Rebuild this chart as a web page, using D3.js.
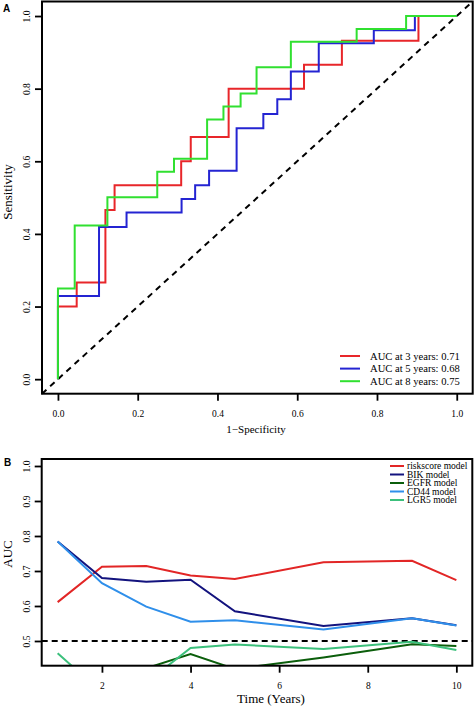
<!DOCTYPE html>
<html>
<head>
<meta charset="utf-8">
<script src="https://cdn.jsdelivr.net/npm/d3@7"></script>
<style>
  body { margin: 0; background: #fff; }
  svg text { font-family: "Liberation Serif", "Times New Roman", serif; fill: #000; }
</style>
</head>
<body>
<div id="chart"></div>
<script>
// panel A: ROC curves (false positive rate / sensitivity at each step)
var fpr3 = [0, 0, 0.047, 0.119, 0.142, 0.309, 0.333, 0.428, 0.617, 0.712, 0.904, 1];
var tpr3 = [0, 0.2, 0.266, 0.466, 0.534, 0.6, 0.667, 0.8, 0.866, 0.932, 1, 1];
var fpr5 = [0, 0, 0.103, 0.172, 0.31, 0.344, 0.379, 0.448, 0.515, 0.55, 0.584, 0.654, 0.792, 0.895, 1];
var tpr5 = [0, 0.229, 0.419, 0.459, 0.496, 0.534, 0.574, 0.691, 0.730, 0.771, 0.847, 0.925, 0.961, 1, 1];
var fpr8 = [0, 0, 0.042, 0.124, 0.249, 0.291, 0.374, 0.415, 0.458, 0.498, 0.584, 0.749, 0.873, 1];
var tpr8 = [0, 0.25, 0.423, 0.501, 0.571, 0.607, 0.715, 0.751, 0.787, 0.859, 0.929, 0.964, 1, 1];
var rocLabels = ["AUC at 3 years: 0.71", "AUC at 5 years: 0.68", "AUC at 8 years: 0.75"];
var rocTicks = [0, 0.2, 0.4, 0.6, 0.8, 1.0];

// panel B: AUC over time
var years = [1, 2, 3, 4, 5, 7, 9, 10];
var riskAuc = [0.611, 0.712, 0.714, 0.687, 0.677, 0.725, 0.729, 0.674];
var bikAuc = [0.784, 0.680, 0.669, 0.675, 0.585, 0.543, 0.565, 0.545];
var egfrAuc = [0.41, 0.40, 0.422, 0.463, 0.42, 0.453, 0.491, 0.486];
var cd44Auc = [0.784, 0.665, 0.598, 0.555, 0.559, 0.533, 0.565, 0.544];
var lgr5Auc = [0.465, 0.352, 0.381, 0.480, 0.490, 0.477, 0.498, 0.474];
var modelNames = ["riskscore model", "BIK model", "EGFR model", "CD44 model", "LGR5 model"];
var timeTicks = [2, 4, 6, 8, 10];
var aucTicks = [0.5, 0.6, 0.7, 0.8, 0.9, 1.0];

var svg = d3.select("#chart")
  .append("svg")
  .attr("width", 474)
  .attr("height", 706);

// ---------- panel A ----------
var xA = d3.scaleLinear().domain([-0.04, 1.04]).range([42, 472.7]);
var yA = d3.scaleLinear().domain([-0.04, 1.04]).range([393.7, 1.5]);
var rocColors = ["#e8262a", "#2424d2", "#30e030"];

var gA = svg.append("g");

gA.append("line")
  .attr("x1", xA(-0.04)).attr("y1", yA(-0.04))
  .attr("x2", xA(1.04)).attr("y2", yA(1.04))
  .attr("stroke", "#000")
  .attr("stroke-width", 2)
  .attr("stroke-dasharray", "6,5");

var rocLine = d3.line()
  .x(d => xA(d[0]))
  .y(d => yA(d[1]))
  .curve(d3.curveStepAfter);

[[fpr3, tpr3], [fpr5, tpr5], [fpr8, tpr8]].forEach(function(c, i) {
  gA.append("path")
    .attr("d", rocLine(d3.zip(c[0], c[1])))
    .attr("fill", "none")
    .attr("stroke", rocColors[i])
    .attr("stroke-width", 2);
});

gA.append("rect")
  .attr("x", xA(-0.04)).attr("y", yA(1.04))
  .attr("width", xA(1.04) - xA(-0.04))
  .attr("height", yA(-0.04) - yA(1.04))
  .attr("fill", "none")
  .attr("stroke", "#000")
  .attr("stroke-width", 2);

var axA = gA.append("g")
  .attr("transform", `translate(0, ${yA(-0.04)})`)
  .call(d3.axisBottom(xA).tickValues(rocTicks).tickFormat(d3.format(".1f")).tickSize(7).tickPadding(10));
var ayA = gA.append("g")
  .attr("transform", `translate(${xA(-0.04)}, 0)`)
  .call(d3.axisLeft(yA).tickValues(rocTicks).tickFormat(d3.format(".1f")).tickSize(7));

// legend A
rocLabels.forEach(function(t, i) {
  var y = 356 + i * 12.6;
  gA.append("line")
    .attr("x1", 340).attr("x2", 360).attr("y1", y).attr("y2", y)
    .attr("stroke", rocColors[i]).attr("stroke-width", 2);
  gA.append("text")
    .attr("x", 370).attr("y", y + 3.6)
    .style("font-size", "10.6px")
    .text(t);
});

gA.append("text")
  .attr("transform", `translate(256, 433)`)
  .attr("text-anchor", "middle")
  .style("font-size", "11px")
  .text("1\u2212Specificity");

gA.append("text")
  .attr("transform", "translate(12, 192) rotate(-90)")
  .attr("text-anchor", "middle")
  .style("font-size", "13px")
  .text("Sensitivity");

svg.append("text")
  .attr("x", 3).attr("y", 12)
  .style("font-family", "Liberation Sans, Arial, sans-serif")
  .style("font-weight", "bold")
  .style("font-size", "10px")
  .text("A");

// ---------- panel B ----------
var xB = d3.scaleLinear().domain([0.64, 10.36]).range([41.7, 472.3]);
var yB = d3.scaleLinear().domain([0.4294, 1.02]).range([665.7, 459]);
var modelColors = ["#e22626", "#13137e", "#0b5e0b", "#2f8fea", "#3cc07c"];

var gB = svg.append("g");

svg.append("clipPath").attr("id", "clipB")
  .append("rect")
  .attr("x", xB(0.64)).attr("y", yB(1.02))
  .attr("width", xB(10.36) - xB(0.64))
  .attr("height", yB(0.4294) - yB(1.02));

gB.append("line")
  .attr("x1", xB(0.64)).attr("x2", xB(10.36))
  .attr("y1", yB(0.5)).attr("y2", yB(0.5))
  .attr("stroke", "#000")
  .attr("stroke-width", 2)
  .attr("stroke-dasharray", "6,4");

var aucLine = d3.line()
  .x(d => xB(d[0]))
  .y(d => yB(d[1]));

[riskAuc, bikAuc, egfrAuc, cd44Auc, lgr5Auc].forEach(function(s, i) {
  gB.append("path")
    .attr("clip-path", "url(#clipB)")
    .attr("d", aucLine(d3.zip(years, s)))
    .attr("fill", "none")
    .attr("stroke", modelColors[i])
    .attr("stroke-width", 2);
});

gB.append("rect")
  .attr("x", xB(0.64)).attr("y", yB(1.02))
  .attr("width", xB(10.36) - xB(0.64))
  .attr("height", yB(0.4294) - yB(1.02))
  .attr("fill", "none")
  .attr("stroke", "#000")
  .attr("stroke-width", 2);

var axB = gB.append("g")
  .attr("transform", `translate(0, ${yB(0.4294)})`)
  .call(d3.axisBottom(xB).tickValues(timeTicks).tickFormat(d3.format("d")).tickSize(7).tickPadding(10));
var ayB = gB.append("g")
  .attr("transform", `translate(${xB(0.64)}, 0)`)
  .call(d3.axisLeft(yB).tickValues(aucTicks).tickFormat(d3.format(".1f")).tickSize(7));

// legend B
modelNames.forEach(function(t, i) {
  var y = 466 + i * 8.5;
  gB.append("line")
    .attr("x1", 390).attr("x2", 404).attr("y1", y).attr("y2", y)
    .attr("stroke", modelColors[i]).attr("stroke-width", 2);
  gB.append("text")
    .attr("x", 407).attr("y", y + 3.3)
    .style("font-size", "9.5px")
    .text(t);
});

gB.append("text")
  .attr("transform", "translate(271, 703)")
  .attr("text-anchor", "middle")
  .style("font-size", "13px")
  .text("Time (Years)");

gB.append("text")
  .attr("transform", "translate(12, 554) rotate(-90)")
  .attr("text-anchor", "middle")
  .style("font-size", "13px")
  .text("AUC");

svg.append("text")
  .attr("x", 4).attr("y", 466)
  .style("font-family", "Liberation Sans, Arial, sans-serif")
  .style("font-weight", "bold")
  .style("font-size", "10px")
  .text("B");

// axis styling, R-like
[axA, ayA, axB, ayB].forEach(function(a) {
  a.select(".domain").remove();
  a.selectAll(".tick line").attr("stroke", "#000").attr("stroke-width", 1.8);
  a.selectAll(".tick text")
    .style("font-family", "Liberation Serif, Times New Roman, serif")
    .style("font-size", "9.5px")
    .attr("fill", "#000");
});

// rotated y tick labels
[ayA, ayB].forEach(function(a) {
  a.selectAll(".tick text")
    .attr("x", null).attr("dy", null)
    .attr("text-anchor", "middle")
    .attr("transform", "translate(-12, 0) rotate(-90)");
});
</script>
</body>
</html>
